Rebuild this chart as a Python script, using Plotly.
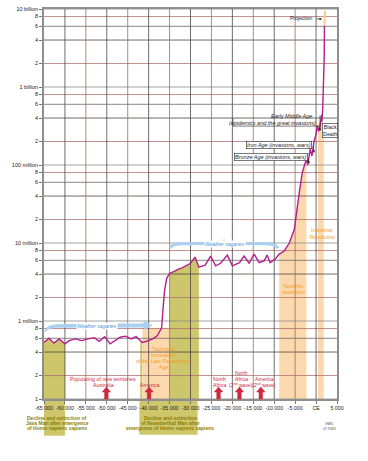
import plotly.graph_objects as go

# ---------------- data ----------------
years = [-65000, -63800, -62600, -61400, -60000, -59000, -57500, -56000, -54500, -53000,
         -51800, -50500, -49200, -48000, -46800, -45500, -44200, -43000, -42000, -41500,
         -40500, -39000, -37900, -36900, -36600, -36200, -35700, -35000, -34000, -33000,
         -32000, -31000, -30000, -28900, -28000, -26500, -25200, -24000, -22800, -21200,
         -20000, -18300, -17200, -16000, -14800, -13600, -12400, -11700, -11000, -9800,
         -8800, -7600, -6400, -5200, -4500, -4000, -3300, -2800, -2300, -2000,
         -1400, -1000, -500, 0, 300, 600, 1000, 1340, 1400, 1600,
         1800, 1900, 1950, 2000]
population = [5.3e5, 6.0e5, 5.2e5, 5.9e5, 5.1e5, 5.6e5, 5.9e5, 5.6e5, 5.9e5, 6.1e5,
              5.5e5, 6.3e5, 5.1e5, 5.6e5, 6.2e5, 6.4e5, 5.9e5, 6.3e5, 5.6e5, 5.3e5,
              5.5e5, 5.9e5, 6.5e5, 8.2e5, 1.35e6, 2.45e6, 3.5e6, 4.1e6, 4.3e6, 4.6e6,
              4.8e6, 5.1e6, 5.5e6, 6.6e6, 4.9e6, 5.2e6, 6.8e6, 5.1e6, 5.5e6, 7.0e6,
              5.1e6, 5.6e6, 6.8e6, 5.5e6, 7.2e6, 5.6e6, 5.9e6, 7.0e6, 5.6e6, 6.2e6,
              7.2e6, 7.9e6, 1.0e7, 1.5e7, 3.0e7, 4.5e7, 8.0e7, 1.0e8, 1.2e8, 1.0e8,
              1.6e8, 1.3e8, 2.0e8, 2.5e8, 3.2e8, 2.7e8, 3.2e8, 4.4e8, 3.6e8, 5.5e8,
              9.8e8, 1.65e9, 2.5e9, 6.1e9]
assert len(years) == len(population)

proj_years = [2000, 2100]
proj_pop = [6.1e9, 9.5e9]

x_ticks = list(range(-65000, 5001, 5000))
x_labels = ["-65 000", "-60 000", "-55 000", "-50 000", "-45 000", "-40 000", "-35 000",
            "-30 000", "-25 000", "-20 000", "-15 000", "-10 000", "-5 000", "CE", "5 000"]

y_ticks = []
y_labels = []
decade_names = {1e5: "1", 1e6: "1 million", 1e7: "10 million", 1e8: "100 million",
                1e9: "1 billion", 1e10: "10 billion"}
for d in [1e5, 1e6, 1e7, 1e8, 1e9]:
    for m in [1, 2, 4, 6, 8]:
        y_ticks.append(d * m)
        y_labels.append(decade_names[d] if m == 1 else str(m))
y_ticks.append(1e10)
y_labels.append("10 billion")

# periods (years)
java_band = (-65000, -60000)
neander_bands = [(-42000, -41500), (-35000, -28000)]
neander_text_band = (-42200, -28300)
tech_band = (-41500, -35000)
tech_top = 8.2e5
neolithic_band = (-8800, -2300)
industrial_band = (450, 1850)
industrial_top = 3.5e8

# arrows: populating of new territories
arrow_years = [-50100, -39900, -23300, -18300, -13200]

# ---------------- helpers for layout positions ----------------
FONT = "Liberation Sans Narrow, Arial Narrow, Liberation Sans, Arial, sans-serif"
Y_BOTTOM = 1e5
KHAKI = "#cdc66a"
PEACH = "#fcd9ad"
RED = "#cc2a3e"
ORANGE = "#f29b2a"
OLIVE = "#8c7e06"
BLUE_TXT = "#4a8fd4"
BLUE_BAR = "#a9d0f0"


def X(px):
    return -65000 + (px - 44) * 70000 / 293


def Y(py):
    return (399 - py) / 393


def seg(lo, hi):
    xs = [x for x in years if lo <= x <= hi]
    ys = [p for x, p in zip(years, population) if lo <= x <= hi]
    return xs + [xs[-1], xs[0]], ys + [Y_BOTTOM, Y_BOTTOM]


fig = go.Figure()

def add_fill(xs, ys, color):
    fig.add_trace(go.Scatter(x=xs, y=ys, mode="lines", fill="toself", fillcolor=color,
                             line=dict(width=0), hoverinfo="skip", showlegend=False))

add_fill(*seg(*java_band), KHAKI)
for b in neander_bands:
    add_fill(*seg(*b), KHAKI)
add_fill([tech_band[0], tech_band[1], tech_band[1], tech_band[0]],
         [Y_BOTTOM, Y_BOTTOM, tech_top, tech_top], PEACH)
add_fill(*seg(*neolithic_band), PEACH)
add_fill([industrial_band[0], industrial_band[1], industrial_band[1], industrial_band[0]],
         [Y_BOTTOM, Y_BOTTOM, industrial_top, industrial_top], PEACH)

# grid lines (traces: above the bands, below the curve)
grid_groups = {}
for v in y_ticks:
    mant = round(v / 10 ** len(str(int(v))[1:]))
    if mant == 1:
        col = "#8a8a8a"
    elif mant in (2, 8):
        col = "#b07272"
    elif mant == 4:
        col = "#4e4646"
    else:
        col = "#6e6464"
    gx, gy = grid_groups.setdefault(col, ([], []))
    gx += [-65000, 5000, None]
    gy += [v, v, None]
for i, xv in enumerate(x_ticks[1:-1], start=1):
    col = "#4e4646" if i % 2 == 1 else "#a06a6a"
    gx, gy = grid_groups.setdefault(col, ([], []))
    gx += [xv, xv, None]
    gy += [1e5, 1e10, None]
for col, (gx, gy) in grid_groups.items():
    fig.add_trace(go.Scatter(x=gx, y=gy, mode="lines", line=dict(color=col, width=0.8),
                             hoverinfo="skip", showlegend=False))

fig.add_trace(go.Scatter(x=proj_years, y=proj_pop, mode="lines",
                         line=dict(color="#f7c995", width=2), hoverinfo="skip", showlegend=False))
fig.add_trace(go.Scatter(x=years, y=population, mode="lines",
                         line=dict(color="#b41f8c", width=1.4), hoverinfo="skip", showlegend=False))

shapes = []
shapes.append(dict(type="rect", xref="x", yref="paper", x0=java_band[0], x1=java_band[1],
                   y0=0, y1=Y(436), fillcolor=KHAKI, line=dict(width=0), layer="below"))
shapes.append(dict(type="rect", xref="x", yref="paper", x0=neander_text_band[0],
                   x1=neander_text_band[1], y0=0, y1=Y(435), fillcolor=KHAKI,
                   line=dict(width=0), layer="below"))

shapes.append(dict(type="path", xref="x", yref="paper", layer="above",
                   path=f"M {X(45)},{Y(331)} Q {X(47)},{Y(325)} {X(56)},{Y(324.5)} "
                        f"L {X(143)},{Y(323.5)} L {X(145)},{Y(321.5)} L {X(151)},{Y(325)} "
                        f"L {X(145)},{Y(328)} L {X(145)},{Y(326)} L {X(56)},{Y(326.5)} "
                        f"Q {X(48)},{Y(327)} {X(45)},{Y(331)} Z",
                   fillcolor=BLUE_BAR, line=dict(color=BLUE_BAR, width=1.5)))
shapes.append(dict(type="path", xref="x", yref="paper", layer="above",
                   path=f"M {X(170)},{Y(247)} Q {X(172)},{Y(243)} {X(180)},{Y(242.5)} "
                        f"L {X(222)},{Y(242)} L {X(224)},{Y(240)} L {X(226)},{Y(242)} "
                        f"L {X(268)},{Y(242.5)} Q {X(276)},{Y(243)} {X(278)},{Y(247)}",
                   line=dict(color=BLUE_BAR, width=3)))

arrow_path = "M -1.8,0 L -1.8,7 L -4.2,7 L 0,12 L 4.2,7 L 1.8,7 L 1.8,0 Z"
for ay in arrow_years:
    shapes.append(dict(type="path", xref="x", yref="paper", xsizemode="pixel",
                       ysizemode="pixel", xanchor=ay, yanchor=0, path=arrow_path,
                       fillcolor=RED, line=dict(color=RED, width=0.5), layer="above"))

shapes.append(dict(type="path", xref="x", yref="paper", layer="above",
                   path=f"M {X(233)},{Y(116.5)} L {X(233)},{Y(124)} L {X(320)},{Y(124)}",
                   line=dict(color="#222", width=0.6)))

annotations = []


def txt(t, px, py, size=5.5, color="#222", xanchor="center", italic=False, bold=False,
        **kw):
    s = t
    if italic:
        s = f"<i>{s}</i>"
    if bold:
        s = f"<b>{s}</b>"
    annotations.append(dict(text=s, x=X(px), y=Y(py), xref="x", yref="paper",
                            xanchor=xanchor, yanchor="middle", showarrow=False,
                            font=dict(family=FONT, size=size, color=color), **kw))


def lines(items, px, py0, step, **kw):
    for k, t in enumerate(items):
        txt(t, px, py0 + k * step, **kw)


def arrow(tip_px, tip_py, ax_px, ay_py, color="#222"):
    annotations.append(dict(text="", x=X(tip_px), y=Y(tip_py), xref="x", yref="paper",
                            ax=ax_px - tip_px, ay=ay_py - tip_py, axref="pixel",
                            ayref="pixel", showarrow=True, arrowhead=2, arrowsize=0.7,
                            arrowwidth=0.7, arrowcolor=color, standoff=0,
                            startstandoff=0))


txt("Weather vagaries", 97, 325, size=5, color=BLUE_TXT, italic=True, bgcolor="white",
    borderpad=0)
txt("Weather vagaries", 225, 242.5, size=5, color=BLUE_TXT, italic=True, bgcolor="white",
    borderpad=0)

lines(["Populating of new territories", "Australia"], 103, 379, 6, size=5.3, color=RED)
txt("America", 149, 385, size=5.3, color=RED)
lines(["North", "Africa"], 219.5, 379, 6, size=5.3, color=RED)
lines(["North", "Africa", "(2<sup>nd</sup> wave)"], 241, 373, 6, size=5.1, color=RED)
lines(["America", "(2<sup>nd</sup> wave)"], 264, 379, 6, size=5.1, color=RED)

lines(["Technical", "innovation", "of the Late Palaeolithic", "Age"], 163, 349, 6,
      size=5.3, color=ORANGE)
lines(["Neolithic", "revolution"], 293, 285, 6.5, size=5.3, color=ORANGE)
lines(["Industrial", "Revolution"], 322, 229, 6.5, size=5.3, color=ORANGE)

lines(["Decline and extinction of", "Java Man after emergence", "of Homo sapiens sapiens"],
      57, 418, 5, size=5, color=OLIVE, bold=True)
lines(["Decline and extinction", "of Neanderthal Man after",
       "emergence of Homo sapiens sapiens"], 170, 418, 5, size=5, color=OLIVE, bold=True)

txt("Projection", 314, 15, size=5, xanchor="right")
arrow(322, 16, 315, 16)

txt("Early Middle Age", 314, 114, size=5.5, xanchor="right", italic=True)
txt("(epidemics and the great invasions)", 318, 120.5, size=5.5, xanchor="right",
    italic=True)
arrow(320, 129, 320, 112)
txt("Iron Age (invasions, wars)", 312, 143, size=5.5, xanchor="right", italic=True,
    bgcolor="white", bordercolor="#222", borderwidth=0.6, borderpad=0.5)
arrow(314, 151, 313, 143)
txt("Bronze Age (invasions, wars)", 308, 155.5, size=5.5, xanchor="right", italic=True,
    bgcolor="white", bordercolor="#222", borderwidth=0.6, borderpad=0.5)
arrow(309, 162, 308, 155.5)
txt("Black<br>Death", 321.5, 128.5, size=5.3, xanchor="left", bgcolor="white",
    bordercolor="#222", borderwidth=0.6, borderpad=0.5)

txt("INED<br>47-9483", 329, 427, size=3.5, color="#555")

fig.update_layout(
    width=368, height=461,
    margin=dict(l=44, r=31, t=6, b=62),
    paper_bgcolor="white", plot_bgcolor="white",
    showlegend=False,
    shapes=shapes, annotations=annotations,
    font=dict(family=FONT, size=6, color="#222"),
)
fig.update_xaxes(range=[-65000, 5000], tickvals=x_ticks, ticktext=x_labels, tickangle=0,
                 showgrid=False, zeroline=False, showline=True, mirror=True,
                 linecolor="#8e8e8e", linewidth=1.5, ticks="outside", ticklen=3,
                 tickcolor="#777", tickfont=dict(family=FONT, size=5.3, color="#222"))
fig.update_yaxes(type="log", range=[5, 10], tickvals=y_ticks, ticktext=y_labels,
                 showgrid=False, zeroline=False, showline=True, mirror=True,
                 linecolor="#8e8e8e", linewidth=1.5, ticks="outside", ticklen=3,
                 tickcolor="#777", tickfont=dict(family=FONT, size=5.5, color="#222"))

fig.write_html("out.html", config={"displayModeBar": False},
               post_script="document.body.style.margin='0';document.body.style.padding='0';")
